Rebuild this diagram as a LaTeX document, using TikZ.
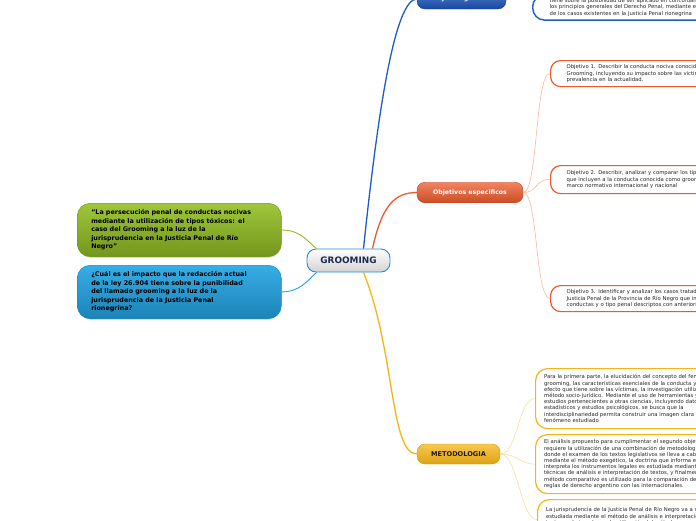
\documentclass[tikz,border=0pt]{standalone}
\usepackage{fontspec}
\setmainfont{DejaVu Sans}
\usetikzlibrary{shadows,calc}
\definecolor{gblue}{HTML}{1E5CC6}
\definecolor{gbluedk}{HTML}{17489E}
\definecolor{ored}{HTML}{EE5A2C}
\definecolor{oredlt}{HTML}{F9B8A0}
\definecolor{myel}{HTML}{F5B514}
\definecolor{myellt}{HTML}{F9DE9C}
\definecolor{lgreen}{HTML}{94C024}
\definecolor{lcyan}{HTML}{22A4E4}
\definecolor{navy}{HTML}{1B2A4E}
\definecolor{txtgray}{HTML}{262626}
\begin{document}
\begin{tikzpicture}[x=1pt,y=-1pt,
  tiny/.style={font=\fontsize{5.3}{6.2}\selectfont, text=txtgray, align=left},
  objbox/.style={draw=ored, line width=1.2pt, rounded corners=10pt, anchor=north west, tiny, text width=210pt, inner xsep=16pt, inner ysep=0pt},
  metbox/.style={draw=myel, line width=1.2pt, rounded corners=12pt, anchor=north west, tiny, text width=210pt, inner xsep=8.5pt, inner ysep=0pt},
  genbox/.style={draw=gblue, line width=1.4pt, rounded corners=12pt, anchor=north west, tiny, text width=210pt, inner xsep=17pt, inner ysep=0pt},
  leftbox/.style={rounded corners=13pt, minimum width=204pt, minimum height=53.5pt, anchor=north west, inner xsep=14pt, text width=176pt, align=left, font=\fontsize{6.4}{8.45}\selectfont\bfseries, text=black, drop shadow={opacity=0.18, shadow xshift=0.8pt, shadow yshift=-1.2pt}},
  topic/.style={rounded corners=8pt, inner sep=0pt, font=\fontsize{6.2}{7}\selectfont\bfseries},
  mainline/.style={line width=1.3pt},
  thinline/.style={line width=0.6pt}
]
\useasboundingbox (0,0) rectangle (696,520);
\clip (0,0) rectangle (696,520);
\fill[white] (0,0) rectangle (696,520);

% left boxes
\node[leftbox, top color=lgreen!90!white, bottom color=lgreen!78!black, draw=lgreen!80!black, line width=0.5pt] (lb1) at (77,203)
 {“La persecución penal de conductas nocivas\\mediante la utilización de tipos tóxicos: el\\caso del Grooming a la luz de la\\jurisprudencia en la Justicia Penal de Río\\Negro”};
\node[leftbox, top color=lcyan!90!white, bottom color=lcyan!80!black, draw=lcyan!85!black, line width=0.5pt] (lb2) at (77,265)
 {¿Cuál es el impacto que la redacción actual\\de la ley 26.904 tiene sobre la punibilidad\\del llamado grooming a la luz de la\\jurisprudencia de la Justicia Penal\\rionegrina?};

% central node
\node[rounded corners=9pt, minimum width=83pt, minimum height=23pt, inner sep=0pt, top color=white, bottom color=gray!35, draw=lcyan!70!gblue, line width=0.9pt, font=\fontsize{8.9}{9}\selectfont\bfseries, text=navy] (g) at (348.5,260.5) {GROOMING};

% topic nodes
\node[topic, minimum width=89pt, minimum height=20pt, top color=gblue!75!white, bottom color=gbluedk, draw=gbluedk, text=white] (og) at (461.5,-1) {Objetivo general};
\node[topic, minimum width=106pt, minimum height=20.5pt, top color=ored!75!white, bottom color=ored!85!black, draw=ored!80!black, text=white] (oe) at (470,192.5) {Objetivos especificos};
\node[topic, minimum width=83pt, minimum height=20pt, top color=myel!75!white, bottom color=myel!90!black, draw=myel!85!black, text=black!85!myel, font=\fontsize{6.6}{7}\selectfont\bfseries] (met) at (458.5,454) {METODOLOGIA};

% detail boxes
\node[genbox, minimum height=25.4pt] (gb) at (532,-6)
 {tiene sobre la posibilidad de ser aplicado en concordancia con\\los principios generales del Derecho Penal, mediante el análisis\\de los casos existentes en la Justicia Penal rionegrina};
\node[objbox, minimum height=26pt] (o1) at (550,60)
 {Objetivo 1. Describir la conducta nociva conocida como\\Grooming, incluyendo su impacto sobre las víctimas y su\\prevalencia en la actualidad.};
\node[objbox, minimum height=28pt] (o2) at (550,165)
 {Objetivo 2. Describir, analizar y comparar los tipos penales\\que incluyen a la conducta conocida como grooming en el\\marco normativo internacional y nacional};
\node[objbox, minimum height=26pt] (o3) at (550,285)
 {Objetivo 3. Identificar y analizar los casos tratados por la\\Justicia Penal de la Provincia de Río Negro que involucren\\conductas y o tipo penal descriptos con anterioridad};
\node[metbox, minimum height=60pt] (m1) at (535,368)
 {Para la primera parte, la elucidación del concepto del fenómeno\\grooming, las características esenciales de la conducta y el\\efecto que tiene sobre las víctimas, la investigación utiliza el\\método socio-jurídico. Mediante el uso de herramientas y\\estudios pertenecientes a otras ciencias, incluyendo datos\\estadísticos y estudios psicológicos, se busca que la\\interdisciplinariedad permita construir una imagen clara del\\fenómeno estudiado};
\node[metbox, minimum height=59pt] (m2) at (535,434)
 {El análisis propuesto para cumplimentar el segundo objetivo\\requiere la utilización de una combinación de metodologías,\\donde el examen de los textos legislativos se lleva a cabo\\mediante el método exegético, la doctrina que informa e\\interpreta los instrumentos legales es estudiada mediante\\técnicas de análisis e interpretación de textos, y finalmente el\\método comparativo es utilizado para la comparación de las\\reglas de derecho argentino con las internacionales.};
\node[metbox, minimum height=40pt] (m3) at (537,499)
 {La jurisprudencia de la Justicia Penal de Río Negro va a ser\\estudiada mediante el método de análisis e interpretación de\\textos, culminando con la utilización del método comparativo\\para contrastar los casos};

% main connectors
\draw[mainline, draw=gblue] ([xshift=15pt]g.north) .. controls (378,110) and (395,-1) .. (og.west);
\draw[mainline, draw=ored] ([xshift=24pt]g.north) .. controls (382,205) and (395,192.5) .. (oe.west);
\draw[mainline, draw=myel] ([xshift=15pt]g.south) .. controls (395,350) and (390,454) .. (met.west);
\draw[line width=0.9pt, draw=lgreen] (lb1.east) .. controls (300,230) and (306,240) .. ([xshift=-32pt]g.north);
\draw[line width=0.9pt, draw=lcyan] (lb2.east) .. controls (300,291.5) and (306,282) .. ([xshift=-32pt]g.south);

% branch connectors
\draw[line width=0.9pt, draw=gblue!40] (og.east) -- (gb.west |- og.east);
\draw[thinline, draw=oredlt] (oe.east) .. controls (538,192.5) and (535,73) .. (o1.west);
\draw[thinline, draw=oredlt] (oe.east) .. controls (538,192.5) and (535,179) .. (o2.west);
\draw[thinline, draw=oredlt] (oe.east) .. controls (538,192.5) and (535,298) .. (o3.west);
\draw[thinline, draw=myellt] (met.east) .. controls (518,454) and (518,398) .. (m1.west);
\draw[thinline, draw=myellt] (met.east) .. controls (518,454) and (518,463.5) .. (m2.west);
\draw[thinline, draw=myellt] (met.east) .. controls (518,454) and (520,519) .. (m3.west);
\end{tikzpicture}
\end{document}
